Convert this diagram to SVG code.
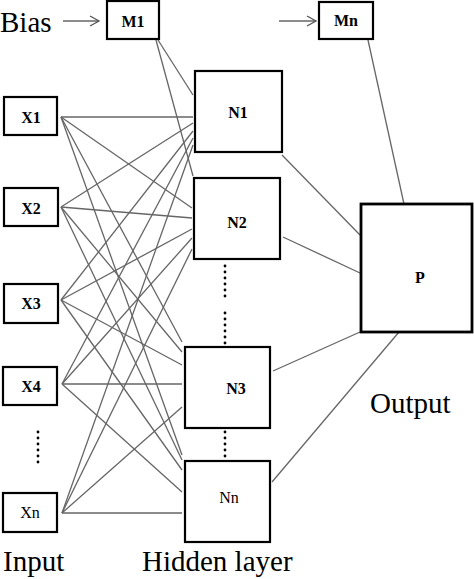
<svg xmlns="http://www.w3.org/2000/svg" width="474" height="579" viewBox="0 0 474 579">
<style>
.box{fill:#fff;stroke:#000;stroke-width:2.2}
.big{fill:#fff;stroke:#000;stroke-width:2.8}
text{font-family:"Liberation Serif","Times New Roman",serif;fill:#000}
.lbl{font-size:16px;font-weight:bold;text-anchor:middle;dominant-baseline:central}
.lbn{font-size:16px;text-anchor:middle;dominant-baseline:central}
.cap{font-size:29px}
.ln{stroke:#666;stroke-width:1.3;fill:none}
.dot{fill:#000}
</style>
<defs>
<marker id="arr" markerWidth="12" markerHeight="12" refX="10" refY="6" orient="auto" markerUnits="userSpaceOnUse">
<path d="M1,1 L10,6 L1,11" fill="none" stroke="#555" stroke-width="1.3"/>
</marker>
<g id="dots7">
<circle cx="0" cy="0" r="1.4"/><circle cx="0" cy="6" r="1.4"/><circle cx="0" cy="12" r="1.4"/><circle cx="0" cy="18" r="1.4"/><circle cx="0" cy="24" r="1.4"/><circle cx="0" cy="30" r="1.4"/>
</g>
</defs>
<rect width="474" height="579" fill="#fff"/>
<g id="connectors">
<line class="ln" x1="63" y1="21" x2="99" y2="21" marker-end="url(#arr)"/>
<line class="ln" x1="279" y1="21" x2="316" y2="21" marker-end="url(#arr)"/>
<line class="ln" x1="158" y1="40" x2="193" y2="95"/>
<line class="ln" x1="156" y1="40" x2="193" y2="176"/>
<line class="ln" x1="368" y1="40" x2="404" y2="204"/>
<line class="ln" x1="61" y1="117" x2="193" y2="117"/>
<line class="ln" x1="61" y1="117" x2="192" y2="208"/>
<line class="ln" x1="61" y1="117" x2="182" y2="342"/>
<line class="ln" x1="61" y1="117" x2="182" y2="455"/>
<line class="ln" x1="61" y1="207" x2="193" y2="123"/>
<line class="ln" x1="61" y1="207" x2="192" y2="218"/>
<line class="ln" x1="61" y1="207" x2="182" y2="352"/>
<line class="ln" x1="61" y1="207" x2="182" y2="460"/>
<line class="ln" x1="61" y1="300" x2="193" y2="131"/>
<line class="ln" x1="61" y1="300" x2="192" y2="229"/>
<line class="ln" x1="61" y1="300" x2="182" y2="365"/>
<line class="ln" x1="61" y1="300" x2="182" y2="470"/>
<line class="ln" x1="62" y1="384" x2="193" y2="138"/>
<line class="ln" x1="62" y1="384" x2="192" y2="238"/>
<line class="ln" x1="62" y1="384" x2="182" y2="384"/>
<line class="ln" x1="62" y1="384" x2="182" y2="492"/>
<line class="ln" x1="62" y1="513" x2="193" y2="145"/>
<line class="ln" x1="62" y1="513" x2="192" y2="249"/>
<line class="ln" x1="62" y1="513" x2="182" y2="407"/>
<line class="ln" x1="62" y1="513" x2="182" y2="513"/>
<line class="ln" x1="282" y1="155" x2="360" y2="235"/>
<line class="ln" x1="283" y1="237" x2="360" y2="273"/>
<line class="ln" x1="273" y1="371" x2="360" y2="332"/>
<line class="ln" x1="272" y1="482" x2="399" y2="332"/>
</g>
<g id="dots" class="dot">
<use href="#dots7" x="225" y="266"/>
<use href="#dots7" x="225" y="313"/>
<use href="#dots7" x="225" y="432"/>
<use href="#dots7" x="38" y="432"/>
</g>
<g id="M1"><rect class="box" x="107" y="1" width="52" height="38"/><text class="lbl" x="133" y="21">M1</text></g>
<g id="Mn"><rect class="box" x="319" y="2" width="54" height="37"/><text class="lbl" x="346" y="20">Mn</text></g>
<g id="X1"><rect class="box" x="4" y="97" width="53" height="38"/><text class="lbl" x="31" y="117">X1</text></g>
<g id="X2"><rect class="box" x="4" y="188" width="54" height="38"/><text class="lbl" x="31" y="208">X2</text></g>
<g id="X3"><rect class="box" x="4" y="284" width="54" height="39"/><text class="lbl" x="31" y="303">X3</text></g>
<g id="X4"><rect class="box" x="3" y="367" width="54" height="38"/><text class="lbl" x="31" y="386">X4</text></g>
<g id="Xn"><rect class="box" x="3" y="493" width="54" height="39"/><text class="lbn" x="30" y="512">Xn</text></g>
<g id="N1"><rect class="box" x="195" y="71" width="87" height="81"/><text class="lbl" x="238" y="112">N1</text></g>
<g id="N2"><rect class="box" x="194" y="178" width="86" height="81"/><text class="lbl" x="237" y="222">N2</text></g>
<g id="N3"><rect class="box" x="185" y="347" width="85" height="81"/><text class="lbl" x="236" y="388">N3</text></g>
<g id="Nn"><rect class="box" x="185" y="461" width="85" height="81"/><text class="lbn" x="229" y="497">Nn</text></g>
<g id="P"><rect class="big" x="361" y="204" width="111" height="128"/><text class="lbl" x="420" y="277">P</text></g>
<g id="captions">
<text class="cap" x="0" y="32">Bias</text>
<text class="cap" x="3" y="571">Input</text>
<text class="cap" x="142" y="571">Hidden layer</text>
<text class="cap" x="370" y="413">Output</text>
</g>
</svg>
